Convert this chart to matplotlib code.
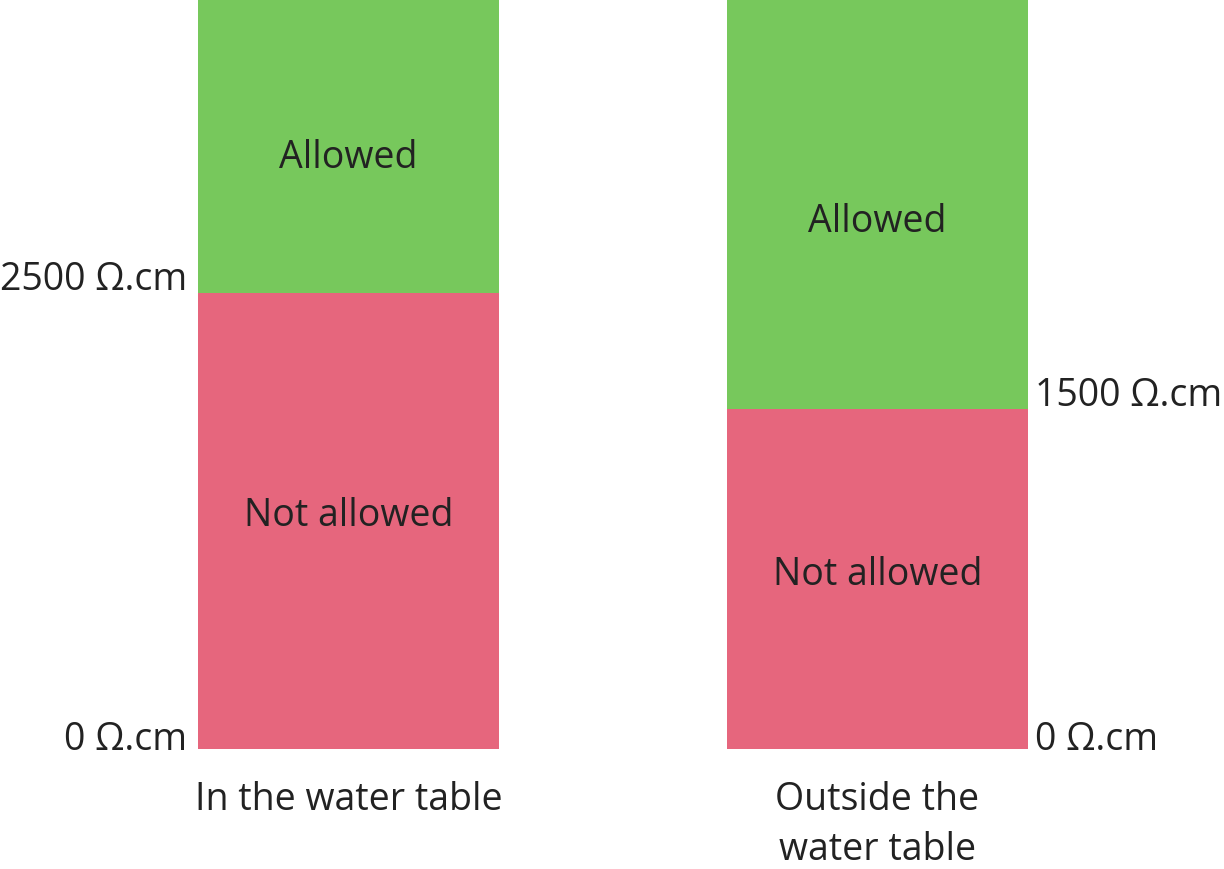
import matplotlib.pyplot as plt

# data
columns = ['In the water table', 'Outside the\nwater table']
thresholds = [2500, 1500]      # Ω.cm, limit between not allowed / allowed
tops = [4110, 3310]            # visible top of each column
segment_labels = ['Not allowed', 'Allowed']
colors = ['#E6667D', '#77C85C']

plt.rcParams['font.family'] = ['Open Sans', 'DejaVu Sans']
fs = 27
txt = '#222222'

fig = plt.figure(figsize=(12.24, 8.7), dpi=100)
axes_pos = [[198 / 1224, 120 / 870, 301 / 1224, 750 / 870],
            [727 / 1224, 120 / 870, 301 / 1224, 750 / 870]]
# vertical nudges (points) for the segment labels: (not allowed, allowed)
nudges = [(4, -8), (4, -12)]

for i, (name, thr, top) in enumerate(zip(columns, thresholds, tops)):
    ax = fig.add_axes(axes_pos[i])
    ax.bar(0, thr, width=1, bottom=0, color=colors[0], linewidth=0)
    ax.bar(0, top - thr, width=1, bottom=thr, color=colors[1], linewidth=0)
    ax.set_xlim(-0.5, 0.5)
    ax.set_ylim(0, top)
    ax.axis('off')

    ax.annotate(segment_labels[0], (0, thr / 2), xytext=(0, nudges[i][0]),
                textcoords='offset points', ha='center', va='center', fontsize=fs, color=txt)
    ax.annotate(segment_labels[1], (0, (thr + top) / 2), xytext=(0, nudges[i][1]),
                textcoords='offset points', ha='center', va='center', fontsize=fs, color=txt)

    # tick labels
    if i == 0:
        x, ha, dx = -0.5, 'right', -8
    else:
        x, ha, dx = 0.5, 'left', 5
    ax.annotate(f'{thr} Ω.cm', (x, thr), xytext=(dx, 10), textcoords='offset points',
                ha=ha, va='center', fontsize=fs, color=txt)
    ax.annotate('0 Ω.cm', (x, 0), xytext=(dx, 0), textcoords='offset points',
                ha=ha, va='baseline', fontsize=fs, color=txt)

    ax.text(0, -0.041, name, ha='center', va='top', fontsize=fs, color=txt,
            transform=ax.get_xaxis_transform(), linespacing=1.42, clip_on=False)

fig.savefig('out.png', dpi=100, facecolor='white')
